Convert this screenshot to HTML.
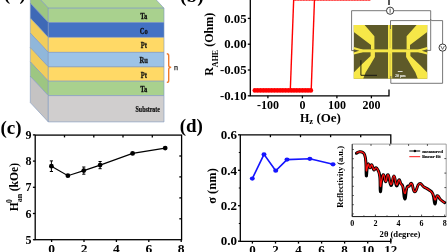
<!DOCTYPE html>
<html><head><meta charset="utf-8"><style>
html,body{margin:0;padding:0;background:#fff;overflow:hidden;}
svg{display:block;}
</style></head><body>
<svg width="448" height="252" viewBox="0 0 448 252">
<rect width="448" height="252" fill="#fff"/>
<g stroke="#7E97BD" stroke-width="0.6" stroke-linejoin="round">
<polygon points="48.3,8.2 164.0,8.2 146.0,-11.1 30.3,-11.1" fill="#AED493"/>
<polygon points="48.3,8.2 30.3,-11.1 30.3,3.2 48.3,22.5" fill="#9DC682"/>
<rect x="48.3" y="8.2" width="115.7" height="14.3" fill="#A9D18E"/>
<polygon points="48.3,22.5 30.3,3.2 30.3,18.1 48.3,37.4" fill="#3F69B6"/>
<rect x="48.3" y="22.5" width="115.7" height="14.9" fill="#4472C4"/>
<polygon points="48.3,37.4 30.3,18.1 30.3,33.1 48.3,52.4" fill="#F2CD5C"/>
<rect x="48.3" y="37.4" width="115.7" height="15.0" fill="#FFD966"/>
<polygon points="48.3,52.4 30.3,33.1 30.3,47.6 48.3,66.9" fill="#90B7DA"/>
<rect x="48.3" y="52.4" width="115.7" height="14.5" fill="#9DC3E6"/>
<polygon points="48.3,66.9 30.3,47.6 30.3,61.9 48.3,81.2" fill="#F2CD5C"/>
<rect x="48.3" y="66.9" width="115.7" height="14.3" fill="#FFD966"/>
<polygon points="48.3,81.2 30.3,61.9 30.3,76.3 48.3,95.6" fill="#9DC682"/>
<rect x="48.3" y="81.2" width="115.7" height="14.4" fill="#A9D18E"/>
<polygon points="48.3,95.6 30.3,76.3 30.3,102.6 48.3,121.9" fill="#C5C3C3"/>
<rect x="48.3" y="95.6" width="115.7" height="26.3" fill="#D0CECE"/>
</g>
<g font-family="'Liberation Serif', 'Times New Roman', serif" font-weight="bold" font-size="8" fill="#111" stroke="#111" stroke-width="0.25" text-anchor="middle">
<text transform="translate(143.8,18.9) scale(0.82,1)">Ta</text>
<text transform="translate(143.8,33.5) scale(0.82,1)">Co</text>
<text transform="translate(143.8,48.4) scale(0.82,1)">Pt</text>
<text transform="translate(143.8,63.2) scale(0.82,1)">Ru</text>
<text transform="translate(143.8,77.6) scale(0.82,1)">Pt</text>
<text transform="translate(143.8,91.9) scale(0.82,1)">Ta</text>
<text transform="translate(147.7,112.2) scale(0.74,1)">Substrate</text>
</g>
<path d="M166.8,53.8 Q168.7,53.8 168.7,55.8 L168.7,65.6 Q168.7,67.4 171.2,67.4 Q168.7,67.4 168.7,69.2 L168.7,80.4 Q168.7,82.4 166.8,82.4" fill="none" stroke="#EE7A2C" stroke-width="1.4"/>
<text x="173.9" y="69.8" font-family="'Liberation Sans', Arial, sans-serif" font-size="7.2" fill="#222" stroke="#222" stroke-width="0.25">n</text>
<text x="4.1" y="-0.2" font-family="'Liberation Serif', 'Times New Roman', serif" font-weight="bold" font-size="18.5">(a)</text>
<g fill="none" stroke="#000" stroke-width="1.3">
<path d="M250.3,-2 L250.3,95.8 L389.0,95.8 L389.0,-2"/>
<line x1="247.8" x2="250.3" y1="18.4" y2="18.4"/>
<line x1="247.8" x2="250.3" y1="44.2" y2="44.2"/>
<line x1="247.8" x2="250.3" y1="70.0" y2="70.0"/>
<line x1="247.8" x2="250.3" y1="95.8" y2="95.8"/>
<line x1="267.9" x2="267.9" y1="95.8" y2="98.3"/>
<line x1="302.4" x2="302.4" y1="95.8" y2="98.3"/>
<line x1="336.9" x2="336.9" y1="95.8" y2="98.3"/>
<line x1="371.4" x2="371.4" y1="95.8" y2="98.3"/>
</g>
<g font-family="'Liberation Serif', 'Times New Roman', serif" font-weight="bold" font-size="12" fill="#000">
<text x="246.6" y="22.6" text-anchor="end" font-size="12.8">0.05</text>
<text x="246.6" y="48.4" text-anchor="end" font-size="12.8">0.00</text>
<text x="246.6" y="74.2" text-anchor="end" font-size="12.8">-0.05</text>
<text x="246.6" y="100.0" text-anchor="end" font-size="12.8">-0.10</text>
<text x="267.9" y="108.9" text-anchor="middle">-100</text>
<text x="302.4" y="108.9" text-anchor="middle">0</text>
<text x="336.9" y="108.9" text-anchor="middle">100</text>
<text x="371.4" y="108.9" text-anchor="middle">200</text>
<text x="300" y="122.2">H<tspan font-size="8.5" dy="2">z</tspan><tspan dy="-2" font-size="13"> (Oe)</tspan></text>
<text transform="translate(213.1,75.8) rotate(-90)">R<tspan font-size="8" dy="4.7">AHE</tspan><tspan dy="-4.7"> (Ohm)</tspan></text>
</g>
<text x="180.3" y="1.9" font-family="'Liberation Serif', 'Times New Roman', serif" font-weight="bold" font-size="19">(b)</text>
<g fill="#FF0000">
<circle cx="254.90" cy="90.4" r="2.4"/>
<circle cx="257.69" cy="90.4" r="2.4"/>
<circle cx="260.49" cy="90.4" r="2.4"/>
<circle cx="263.29" cy="90.4" r="2.4"/>
<circle cx="266.08" cy="90.4" r="2.4"/>
<circle cx="268.88" cy="90.4" r="2.4"/>
<circle cx="271.67" cy="90.4" r="2.4"/>
<circle cx="274.47" cy="90.4" r="2.4"/>
<circle cx="277.26" cy="90.4" r="2.4"/>
<circle cx="280.06" cy="90.4" r="2.4"/>
<circle cx="282.85" cy="90.4" r="2.4"/>
<circle cx="285.64" cy="90.4" r="2.4"/>
<circle cx="288.44" cy="90.4" r="2.4"/>
<circle cx="291.24" cy="90.4" r="2.4"/>
<circle cx="294.03" cy="90.4" r="2.4"/>
<circle cx="296.82" cy="90.4" r="2.4"/>
<circle cx="299.62" cy="90.4" r="2.4"/>
<circle cx="302.42" cy="90.4" r="2.4"/>
<circle cx="305.21" cy="90.4" r="2.4"/>
<circle cx="308.00" cy="90.4" r="2.4"/>
<circle cx="310.80" cy="90.4" r="2.4"/>
<circle cx="295.30" cy="-1.7" r="2.4"/>
<circle cx="298.13" cy="-1.7" r="2.4"/>
<circle cx="300.97" cy="-1.7" r="2.4"/>
<circle cx="303.80" cy="-1.7" r="2.4"/>
<circle cx="306.64" cy="-1.7" r="2.4"/>
<circle cx="309.47" cy="-1.7" r="2.4"/>
<circle cx="312.31" cy="-1.7" r="2.4"/>
<circle cx="315.14" cy="-1.7" r="2.4"/>
<circle cx="317.98" cy="-1.7" r="2.4"/>
<circle cx="320.81" cy="-1.7" r="2.4"/>
<circle cx="323.65" cy="-1.7" r="2.4"/>
<circle cx="326.48" cy="-1.7" r="2.4"/>
<circle cx="329.32" cy="-1.7" r="2.4"/>
<circle cx="332.15" cy="-1.7" r="2.4"/>
<circle cx="334.98" cy="-1.7" r="2.4"/>
<circle cx="337.82" cy="-1.7" r="2.4"/>
<circle cx="340.65" cy="-1.7" r="2.4"/>
<circle cx="343.49" cy="-1.7" r="2.4"/>
<circle cx="346.32" cy="-1.7" r="2.4"/>
<circle cx="349.16" cy="-1.7" r="2.4"/>
<circle cx="351.99" cy="-1.7" r="2.4"/>
<circle cx="354.83" cy="-1.7" r="2.4"/>
<circle cx="357.66" cy="-1.7" r="2.4"/>
<circle cx="360.50" cy="-1.7" r="2.4"/>
<circle cx="363.33" cy="-1.7" r="2.4"/>
<circle cx="366.17" cy="-1.7" r="2.4"/>
<circle cx="369.00" cy="-1.7" r="2.4"/>
</g>
<g stroke="#FF0000" stroke-width="1.4" fill="none">
<line x1="293.7" y1="-1" x2="290.3" y2="90.4"/>
<line x1="311.2" y1="90.4" x2="314.5" y2="-1"/>
</g>
<rect x="349" y="5" width="99" height="84.5" fill="#fff"/>
<g>
<rect x="353.8" y="25" width="73.4" height="53.7" fill="#5E5A29"/>
<g fill="#F6E748">
<rect x="388" y="25" width="4.2" height="53.7"/>
<rect x="353.8" y="49.4" width="73.4" height="2.9"/>
<polygon points="353.8,47 362.5,49.4 362.5,52.3 353.8,54.6"/>
<polygon points="427.2,47 418.5,49.4 418.5,52.3 427.2,54.6"/>
<polygon points="353.8,25 364.6,25 374.4,36.3 374.4,49.5 371,49.5 371,45 353.8,32"/>
<polygon points="427.2,25 416.6,25 406.6,36.3 406.6,49.5 410,49.5 410,45 427.2,32"/>
<polygon points="370.6,52 374.9,52 374.9,57 369.9,65.4 365.6,72.6 363.2,78.7 353.8,78.7 353.8,72.5 360.6,65.4 370.6,56.1"/>
<polygon points="410.4,52 406.1,52 406.1,57 411.1,65.4 415.4,72.6 417.8,78.7 427.2,78.7 427.2,72.5 420.4,65.4 410.4,56.1"/>
</g>
<polygon points="353.8,49.3 359.2,50.85 353.8,52.4" fill="#5E5A29"/>
<polygon points="427.2,49.3 421.8,50.85 427.2,52.4" fill="#5E5A29"/>
<line x1="390.1" y1="25" x2="390.1" y2="48" stroke="#b8aa45" stroke-width="0.6"/>
<line x1="390.1" y1="53.5" x2="390.1" y2="78.7" stroke="#b8aa45" stroke-width="0.6"/>
<line x1="397.8" y1="71.5" x2="402.6" y2="71.5" stroke="#fff" stroke-width="0.8"/>
<text x="400.4" y="77.3" font-family="'Liberation Serif', 'Times New Roman', serif" font-weight="bold" font-size="4" fill="#fff" text-anchor="middle">20 μm</text>
<path d="M360.9,60.2 L360.9,75.3 L377,75.3" stroke="#111" stroke-width="0.9" fill="none"/>
</g>
<g stroke="#555" stroke-width="0.8" fill="none">
<path d="M356,50.6 L351.6,50.6 L351.6,10.7 L386.5,10.7"/>
<path d="M393.7,10.7 L430.7,10.7 L430.7,50.4 L426,50.4"/>
<path d="M390.5,29 L390.5,20.6 L429.4,20.6 Q430.7,18.8 432,20.6 L442.6,20.6 L442.6,44"/>
<path d="M442.6,51.2 L442.6,83.3 L390.8,83.3 L390.8,76"/>
</g>
<g stroke="#222" stroke-width="0.9" fill="#fff">
<circle cx="390.1" cy="10.7" r="3.6"/>
<circle cx="442.6" cy="47.6" r="3.6"/>
</g>
<line x1="390.1" y1="8.6" x2="390.1" y2="12.8" stroke="#333" stroke-width="0.8"/>
<path d="M440.8,46 L442.6,49.4 L444.4,46" stroke="#333" stroke-width="0.7" fill="none"/>
<g fill="none" stroke="#000" stroke-width="1.3">
<rect x="35.2" y="135.1" width="146.4" height="104.6"/>
<line x1="32.9" x2="35.2" y1="239.7" y2="239.7"/>
<line x1="32.9" x2="35.2" y1="213.5" y2="213.5"/>
<line x1="32.9" x2="35.2" y1="187.3" y2="187.3"/>
<line x1="32.9" x2="35.2" y1="161.1" y2="161.1"/>
<line x1="32.9" x2="35.2" y1="134.9" y2="134.9"/>
<line x1="179.3" x2="181.6" y1="156.0" y2="156.0"/>
<line x1="64.5" x2="64.5" y1="135.1" y2="137.4"/>
<line x1="179.3" x2="181.6" y1="176.9" y2="176.9"/>
<line x1="93.8" x2="93.8" y1="135.1" y2="137.4"/>
<line x1="179.3" x2="181.6" y1="197.9" y2="197.9"/>
<line x1="123.0" x2="123.0" y1="135.1" y2="137.4"/>
<line x1="179.3" x2="181.6" y1="218.8" y2="218.8"/>
<line x1="152.3" x2="152.3" y1="135.1" y2="137.4"/>
<line x1="51.6" x2="51.6" y1="239.7" y2="242.0"/>
<line x1="84.0" x2="84.0" y1="239.7" y2="242.0"/>
<line x1="116.4" x2="116.4" y1="239.7" y2="242.0"/>
<line x1="148.8" x2="148.8" y1="239.7" y2="242.0"/>
<line x1="181.2" x2="181.2" y1="239.7" y2="242.0"/>
</g>
<g font-family="'Liberation Serif', 'Times New Roman', serif" font-weight="bold" font-size="12" fill="#000">
<text x="31.5" y="243.7" text-anchor="end">5</text>
<text x="31.5" y="217.5" text-anchor="end">6</text>
<text x="31.5" y="191.3" text-anchor="end">7</text>
<text x="31.5" y="165.1" text-anchor="end">8</text>
<text x="31.5" y="138.9" text-anchor="end">9</text>
<text x="51.6" y="252.7" text-anchor="middle" font-size="13.5">0</text>
<text x="84.0" y="252.7" text-anchor="middle" font-size="13.5">2</text>
<text x="116.4" y="252.7" text-anchor="middle" font-size="13.5">4</text>
<text x="148.8" y="252.7" text-anchor="middle" font-size="13.5">6</text>
<text x="181.2" y="252.7" text-anchor="middle" font-size="13.5">8</text>
<g transform="translate(18,211.2) rotate(-90)"><text x="0" y="0" font-size="11.5">H</text><text x="8.3" y="-5.6" font-size="7.5">0</text><text x="8.9" y="3.6" font-size="8">an</text><text x="19.9" y="0" font-size="11.6">(kOe)</text></g>
</g>
<text x="0.4" y="133.6" font-family="'Liberation Serif', 'Times New Roman', serif" font-weight="bold" font-size="19">(c)</text>
<polyline points="51.4,166.2 67.9,175.7 83.8,170.6 100.1,165.1 132.6,153.4 165.2,148.1" fill="none" stroke="#000" stroke-width="1.2"/>
<g stroke="#000" stroke-width="1">
<path d="M51.4,160.9 L51.4,171.5 M49.8,160.9 L53.0,160.9 M49.8,171.5 L53.0,171.5" fill="none"/>
<path d="M83.8,167.0 L83.8,174.2 M82.2,167.0 L85.4,167.0 M82.2,174.2 L85.4,174.2" fill="none"/>
<path d="M100.1,161.5 L100.1,168.7 M98.5,161.5 L101.7,161.5 M98.5,168.7 L101.7,168.7" fill="none"/>
</g>
<circle cx="51.4" cy="166.2" r="2.4" fill="#000"/>
<circle cx="67.9" cy="175.7" r="2.4" fill="#000"/>
<circle cx="83.8" cy="170.6" r="2.4" fill="#000"/>
<circle cx="100.1" cy="165.1" r="2.4" fill="#000"/>
<circle cx="132.6" cy="153.4" r="2.4" fill="#000"/>
<circle cx="165.2" cy="148.1" r="2.4" fill="#000"/>
<g fill="none" stroke="#000" stroke-width="1.3">
<path d="M240.3,134.9 L390.8,134.9 L390.8,241.3 L240.3,241.3 Z"/>
<line x1="238.0" x2="240.3" y1="241.2" y2="241.2"/>
<line x1="238.0" x2="240.3" y1="205.7" y2="205.7"/>
<line x1="238.0" x2="240.3" y1="170.3" y2="170.3"/>
<line x1="238.0" x2="240.3" y1="134.8" y2="134.8"/>
<line x1="238.8" x2="240.3" y1="223.5" y2="223.5" stroke-width="1"/>
<line x1="238.8" x2="240.3" y1="188.0" y2="188.0" stroke-width="1"/>
<line x1="238.8" x2="240.3" y1="152.5" y2="152.5" stroke-width="1"/>
<line x1="252.4" x2="252.4" y1="241.3" y2="243.6"/>
<line x1="275.5" x2="275.5" y1="241.3" y2="243.6"/>
<line x1="298.5" x2="298.5" y1="241.3" y2="243.6"/>
<line x1="321.6" x2="321.6" y1="241.3" y2="243.6"/>
<line x1="344.6" x2="344.6" y1="241.3" y2="243.6"/>
<line x1="367.7" x2="367.7" y1="241.3" y2="243.6"/>
<line x1="390.8" x2="390.8" y1="241.3" y2="243.6"/>
<line x1="270.4" x2="270.4" y1="134.9" y2="137.2"/>
<line x1="388.5" x2="390.8" y1="156.2" y2="156.2"/>
<line x1="300.5" x2="300.5" y1="134.9" y2="137.2"/>
<line x1="388.5" x2="390.8" y1="177.5" y2="177.5"/>
<line x1="330.6" x2="330.6" y1="134.9" y2="137.2"/>
<line x1="388.5" x2="390.8" y1="198.7" y2="198.7"/>
<line x1="360.7" x2="360.7" y1="134.9" y2="137.2"/>
<line x1="388.5" x2="390.8" y1="220.0" y2="220.0"/>
</g>
<g font-family="'Liberation Serif', 'Times New Roman', serif" font-weight="bold" font-size="13" fill="#000">
<text x="237" y="245.4" text-anchor="end">0.0</text>
<text x="237" y="209.9" text-anchor="end">0.2</text>
<text x="237" y="174.5" text-anchor="end">0.4</text>
<text x="237" y="139.0" text-anchor="end">0.6</text>
<text x="252.4" y="254.3" text-anchor="middle">0</text>
<text x="275.5" y="254.3" text-anchor="middle">2</text>
<text x="298.5" y="254.3" text-anchor="middle">4</text>
<text x="321.6" y="254.3" text-anchor="middle">6</text>
<text x="344.6" y="254.3" text-anchor="middle">8</text>
<text x="367.7" y="254.3" text-anchor="middle">10</text>
<text x="390.8" y="254.3" text-anchor="middle">12</text>
<text transform="translate(216,203.8) rotate(-90)" font-size="12.5">σ (nm)</text>
</g>
<text x="179.7" y="132.2" font-family="'Liberation Serif', 'Times New Roman', serif" font-weight="bold" font-size="19">(d)</text>
<polyline points="252.3,178.6 264.0,154.4 275.7,170.7 287.0,159.6 309.9,158.8 333.0,164.3" fill="none" stroke="#1515FF" stroke-width="1.6"/>
<ellipse cx="252.3" cy="178.6" rx="2.5" ry="2.15" fill="#1515FF"/>
<ellipse cx="264.0" cy="154.4" rx="2.5" ry="2.15" fill="#1515FF"/>
<ellipse cx="275.7" cy="170.7" rx="2.5" ry="2.15" fill="#1515FF"/>
<ellipse cx="287.0" cy="159.6" rx="2.5" ry="2.15" fill="#1515FF"/>
<ellipse cx="309.9" cy="158.8" rx="2.5" ry="2.15" fill="#1515FF"/>
<ellipse cx="333.0" cy="164.3" rx="2.5" ry="2.15" fill="#1515FF"/>
<rect x="349" y="144.1" width="99" height="94.5" fill="#fff"/>
<line x1="390.8" y1="238.6" x2="390.8" y2="241.2" stroke="#000" stroke-width="1.3"/>
<path d="M352.2,144.1 L446.2,144.1 L446.2,216.6" fill="none" stroke="#888" stroke-width="0.8"/>
<path d="M352.2,144.1 L352.2,216.6 L446.2,216.6" fill="none" stroke="#111" stroke-width="1"/>
<g stroke="#222" stroke-width="0.8">
<line x1="352.3" x2="352.3" y1="216.6" y2="214.6"/>
<line x1="363.9" x2="363.9" y1="216.6" y2="215.4"/>
<line x1="375.4" x2="375.4" y1="216.6" y2="214.6"/>
<line x1="387.0" x2="387.0" y1="216.6" y2="215.4"/>
<line x1="398.5" x2="398.5" y1="216.6" y2="214.6"/>
<line x1="410.1" x2="410.1" y1="216.6" y2="215.4"/>
<line x1="421.6" x2="421.6" y1="216.6" y2="214.6"/>
<line x1="433.2" x2="433.2" y1="216.6" y2="215.4"/>
<line x1="444.7" x2="444.7" y1="216.6" y2="214.6"/>
<line x1="371.0" x2="371.0" y1="144.1" y2="145.9"/>
<line x1="446.2" x2="444.4" y1="158.6" y2="158.6"/>
<line x1="389.8" x2="389.8" y1="144.1" y2="145.9"/>
<line x1="446.2" x2="444.4" y1="173.1" y2="173.1"/>
<line x1="408.6" x2="408.6" y1="144.1" y2="145.9"/>
<line x1="446.2" x2="444.4" y1="187.6" y2="187.6"/>
<line x1="427.4" x2="427.4" y1="144.1" y2="145.9"/>
<line x1="446.2" x2="444.4" y1="202.1" y2="202.1"/>
<line x1="352.2" x2="353.8" y1="149.5" y2="149.5"/>
<line x1="352.2" x2="353.8" y1="158.7" y2="158.7"/>
<line x1="352.2" x2="353.8" y1="167.9" y2="167.9"/>
<line x1="352.2" x2="353.8" y1="177.1" y2="177.1"/>
<line x1="352.2" x2="353.8" y1="186.3" y2="186.3"/>
<line x1="352.2" x2="353.8" y1="195.5" y2="195.5"/>
<line x1="352.2" x2="353.8" y1="204.7" y2="204.7"/>
<line x1="352.2" x2="353.8" y1="213.9" y2="213.9"/>
</g>
<path d="M356.40,153.30 C357.07,152.93 357.17,152.11 358.90,151.90 C360.63,151.69 361.30,151.43 362.90,152.50 C364.50,153.57 364.10,153.13 364.90,155.90 C365.70,158.67 365.53,157.59 365.90,162.90 C366.27,168.21 365.95,174.44 366.30,175.80 C366.65,177.16 366.67,171.20 367.20,168.00 C367.73,164.80 367.58,163.85 368.30,163.80 C369.02,163.75 368.97,167.53 369.90,167.80 C370.83,168.07 370.76,164.27 371.80,164.80 C372.84,165.33 372.73,169.00 373.80,169.80 C374.87,170.60 374.73,167.80 375.80,167.80 C376.87,167.80 376.73,167.43 377.80,169.80 C378.87,172.17 379.11,170.89 379.80,176.70 C380.49,182.51 379.87,190.80 380.40,191.60 C380.93,192.40 380.92,184.18 381.80,179.70 C382.68,175.22 382.66,174.27 383.70,174.80 C384.74,175.33 384.53,181.70 385.70,181.70 C386.87,181.70 386.69,173.79 388.10,174.80 C389.51,175.81 389.45,185.21 391.00,185.50 C392.55,185.79 392.43,175.82 393.90,175.90 C395.37,175.98 395.17,184.73 396.50,185.80 C397.83,186.87 397.73,180.43 398.90,179.90 C400.07,179.37 399.83,181.96 400.90,183.80 C401.97,185.64 401.86,182.75 402.90,186.80 C403.94,190.85 403.76,198.68 404.80,199.00 C405.84,199.32 405.63,191.47 406.80,188.00 C407.97,184.53 407.87,187.12 409.20,186.00 C410.53,184.88 410.31,182.25 411.80,183.80 C413.29,185.35 412.83,191.80 414.80,191.80 C416.77,191.80 416.77,185.11 419.20,183.80 C421.63,182.49 421.34,185.30 423.90,186.90 C426.46,188.50 426.43,187.96 428.80,189.80 C431.17,191.64 431.20,190.09 432.80,193.80 C434.40,197.51 433.89,202.58 434.80,203.70 C435.71,204.82 435.40,200.11 436.20,198.00 C437.00,195.89 436.60,195.32 437.80,195.80 C439.00,196.28 438.86,197.96 440.70,199.80 C442.54,201.64 443.63,201.93 444.70,202.70" fill="none" stroke="#000" stroke-width="3" stroke-linejoin="round" stroke-linecap="round"/>
<path d="M356.40,153.30 C357.07,152.93 357.17,152.11 358.90,151.90 C360.63,151.69 361.30,151.43 362.90,152.50 C364.50,153.57 364.10,153.13 364.90,155.90 C365.70,158.67 365.53,159.01 365.90,162.90 C366.27,166.79 365.95,169.14 366.30,170.50 C366.65,171.86 366.67,169.79 367.20,168.00 C367.73,166.21 367.58,163.85 368.30,163.80 C369.02,163.75 368.97,167.53 369.90,167.80 C370.83,168.07 370.76,164.27 371.80,164.80 C372.84,165.33 372.73,169.00 373.80,169.80 C374.87,170.60 374.73,167.80 375.80,167.80 C376.87,167.80 376.73,167.43 377.80,169.80 C378.87,172.17 379.11,172.25 379.80,176.70 C380.49,181.15 379.87,185.70 380.40,186.50 C380.93,187.30 380.92,182.82 381.80,179.70 C382.68,176.58 382.66,174.27 383.70,174.80 C384.74,175.33 384.53,181.70 385.70,181.70 C386.87,181.70 386.69,174.05 388.10,174.80 C389.51,175.55 389.45,184.21 391.00,184.50 C392.55,184.79 392.43,175.82 393.90,175.90 C395.37,175.98 395.17,183.73 396.50,184.80 C397.83,185.87 397.73,180.17 398.90,179.90 C400.07,179.63 399.83,181.96 400.90,183.80 C401.97,185.64 401.86,184.21 402.90,186.80 C403.94,189.39 403.76,193.18 404.80,193.50 C405.84,193.82 405.63,190.00 406.80,188.00 C407.97,186.00 407.87,187.12 409.20,186.00 C410.53,184.88 410.31,182.25 411.80,183.80 C413.29,185.35 412.83,191.80 414.80,191.80 C416.77,191.80 416.77,185.11 419.20,183.80 C421.63,182.49 421.34,185.30 423.90,186.90 C426.46,188.50 426.43,187.96 428.80,189.80 C431.17,191.64 431.20,191.21 432.80,193.80 C434.40,196.39 433.89,198.38 434.80,199.50 C435.71,200.62 435.40,198.99 436.20,198.00 C437.00,197.01 436.60,195.32 437.80,195.80 C439.00,196.28 438.86,197.96 440.70,199.80 C442.54,201.64 443.63,201.93 444.70,202.70" fill="none" stroke="#FF1010" stroke-width="1.3" stroke-linejoin="round"/>
<line x1="409.3" y1="151" x2="420.2" y2="151" stroke="#000" stroke-width="1"/>
<circle cx="414.9" cy="151" r="1.2" fill="#000"/>
<line x1="409.3" y1="156.7" x2="420.2" y2="156.7" stroke="#FF1010" stroke-width="1"/>
<g font-family="'Liberation Serif', 'Times New Roman', serif" font-weight="bold" font-size="5" fill="#111" stroke="#111" stroke-width="0.2">
<text x="422.2" y="152.6">measured</text>
<text x="422.2" y="158.3">linear fit</text>
</g>
<g font-family="'Liberation Serif', 'Times New Roman', serif" font-weight="bold" font-size="8" fill="#000">
<text x="352.3" y="226.2" text-anchor="middle">0</text>
<text x="375.4" y="226.2" text-anchor="middle">2</text>
<text x="398.5" y="226.2" text-anchor="middle">4</text>
<text x="421.6" y="226.2" text-anchor="middle">6</text>
<text x="444.7" y="226.2" text-anchor="middle">8</text>
<text x="400" y="237.4" font-size="8.6" text-anchor="middle">2θ (degree)</text>
<text transform="translate(343.4,176.9) rotate(-90)" font-size="8.4" text-anchor="middle">Reflectivity (a.u.)</text>
</g>
</svg>
</body></html>
